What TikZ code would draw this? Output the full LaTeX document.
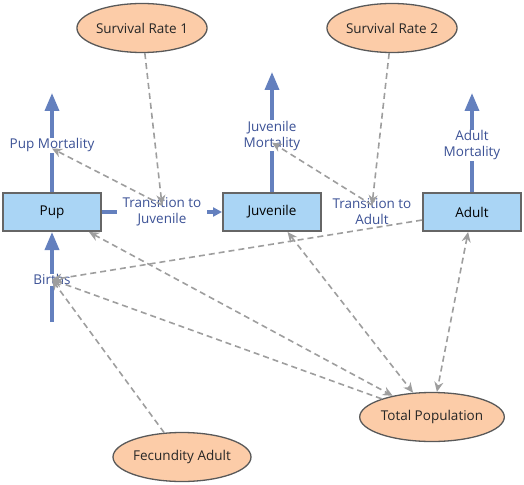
\documentclass[tikz,border=0pt]{standalone}
\usepackage{fontspec}
\setmainfont{Open Sans}
\usetikzlibrary{arrows.meta, positioning, shapes.geometric}

\begin{document}
\begin{tikzpicture}[x=1pt, y=-1pt, font=\fontsize{13.5}{16}\selectfont]
		\definecolor{stockblue}{RGB}{170,213,245}
		\definecolor{paramfill}{RGB}{252,204,168}
		\definecolor{flowblue}{RGB}{100,128,190}
		\definecolor{flowtext}{RGB}{60,82,150}
		\definecolor{linkgray}{RGB}{158,158,158}
		\tikzstyle{StockName} = [rectangle, minimum width=98pt, minimum height=38pt, text centered, draw=black!60, line width=2pt, fill=stockblue]
		\tikzstyle{ParamName} = [ellipse, minimum width=119pt, minimum height=49pt, inner sep=0pt, text centered, draw=black!65, line width=1.3pt, fill=paramfill, text=black!85]
		\tikzstyle{FlowName} = [align=center, text=flowtext, fill=white, inner xsep=6pt, inner ysep=1pt]
		\tikzstyle{flow} = [line width=3.6pt, draw=flowblue, -{Triangle[width=14pt,length=18pt]}]
		\tikzstyle{flowsmall} = [line width=3.6pt, draw=flowblue, -{Triangle[width=9pt,length=9pt]}]
		\tikzstyle{link} = [draw=linkgray, line width=1.6pt, dash pattern=on 6pt off 4pt, -{Stealth[length=10pt,width=9pt]}]
		\tikzstyle{linkboth} = [link, {Stealth[length=10pt,width=9pt]}-{Stealth[length=10pt,width=9pt]}]
		
		\useasboundingbox (0,0) rectangle (524,484);
		
		\node (sr1) [ParamName] at (142,28) {Survival Rate 1};
		\node (sr2) [ParamName] at (392,28) {Survival Rate 2};
		
		\node (pup) [StockName] at (52,212) {Pup};
		\node (juv) [StockName] at (272,212) {Juvenile};
		\node (adult) [StockName] at (472,212) {Adult};
		
		\node (fec) [ParamName] at (182,457) {Fecundity Adult};
		\node (total) [ParamName] at (432,417) {Total Population};
		
		\coordinate [above = 99pt of pup.north] (pupSink);
		\coordinate [above = 120pt of juv.north] (juvSink);
		\coordinate [above = 99pt of adult.north] (adultSink);
		\coordinate [below = 90pt of pup.south] (birthSrc);
		
		\draw[flow] (pup) -- node[FlowName, pos=0.47] (pm) {Pup Mortality} (pupSink);
		\draw[flow] (juv) -- node[FlowName, pos=0.47] (jm) {Juvenile\\Mortality} (juvSink);
		\draw[flow] (adult) -- node[FlowName, pos=0.47] (am) {Adult\\Mortality} (adultSink);
		\draw[flow] (birthSrc) -- node[FlowName, pos=0.47] (births) {Births} (pup);
		\draw[flowsmall] (pup) -- node[FlowName] (tj) {Transition to\\Juvenile} (juv);
		\path (juv) -- node[FlowName] (ta) {Transition to\\Adult} (adult);
		
		\draw[link] (sr1) -- ([yshift=7pt]tj.center);
		\draw[link] ([yshift=7pt]tj.center) -- ([yshift=-3pt]pm.center);
		\draw[link] (sr2) -- ([yshift=7pt]ta.center);
		\draw[link] ([yshift=7pt]ta.center) -- ([yshift=-7pt]jm.center);
		\draw[link] (adult) -- (births.center);
		\draw[link] (fec) -- (births.center);
		\draw[link] (total) -- (births.center);
		\draw[linkboth] (pup) -- (total);
		\draw[linkboth] (juv) -- (total);
		\draw[linkboth] (adult) -- (total);
		\end{tikzpicture}
\end{document}
